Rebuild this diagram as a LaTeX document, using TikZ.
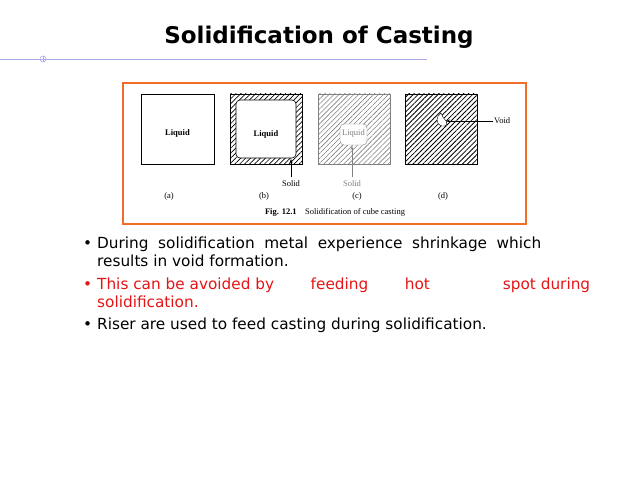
\documentclass[tikz,border=0pt]{standalone}
\usepackage{fontspec}
\setmainfont{Liberation Serif}
\newfontfamily\bodyf{DejaVu Sans}
\usetikzlibrary{patterns.meta,arrows.meta}
\definecolor{orng}{RGB}{240,110,40}
\definecolor{lav}{RGB}{170,170,230}
\definecolor{redt}{RGB}{230,20,20}
\begin{document}
\begin{tikzpicture}[x=1pt,y=-1pt,
  box/.style={draw,line width=0.9pt},
  lbl/.style={font=\fontsize{8.5}{10}\selectfont},
  blt/.style={anchor=base west,inner sep=0pt,font=\bodyf\fontsize{15.3}{18}\selectfont}]
\useasboundingbox (0,0) rectangle (638,478);
\node[font=\bodyf\bfseries\fontsize{23}{27}\selectfont] (title) at (319,37) {Solidification of Casting};
\draw[lav,line width=0.8pt] (0,59) -- (427,59);
\node[draw=lav,circle,inner sep=0pt,minimum size=6pt,line width=0.6pt] (ic) at (43,59) {};
\draw[lav,line width=0.5pt] (40,59)--(46,59) (43,56)--(43,62);
\draw[orng,line width=2.5pt] (123,83) rectangle (526,224);
% (a)
\draw[box] (141,94) rectangle (214,164);
\node[font=\bfseries\fontsize{8.5}{10}\selectfont] (la) at (177.5,133) {Liquid};
% (b)
\draw[box,pattern={Lines[angle=45,distance=3.5pt,line width=0.7pt]}] (230,94) rectangle (302,164);
\draw[box,fill=white,rounded corners=4pt,line width=0.6pt] (236,100) rectangle (296,158);
\node[font=\bfseries\fontsize{8.5}{10}\selectfont] (lb) at (266,134) {Liquid};
% (c)
\draw[box,draw=gray,pattern={Lines[angle=45,distance=3.5pt,line width=0.6pt]},pattern color=gray] (318,94) rectangle (390,164);
\draw[gray,fill=white,rounded corners=4pt] (340,124) rectangle (367,145);
\node[lbl,text=gray] (lc) at (353.5,133) {Liquid};
% (d)
\draw[box,pattern={Lines[angle=45,distance=3.5pt,line width=0.8pt]}] (405,94) rectangle (477,164);
\fill[white,draw=black,line width=0.4pt] (441,113) .. controls (436,116) and (435,124) .. (442,126) .. controls (446,127) and (448,124) .. (446,121) .. controls (443,119) and (443,116) .. (441,113);
\coordinate (vd) at (446,121);
\node[lbl,anchor=west,inner sep=1pt] (void) at (493,121) {Void};
\draw[-{Stealth[length=4pt]},line width=0.6pt] (void.west) -- (vd);
% solid labels
\node[lbl] (sb) at (291,184) {Solid};
\coordinate (sbp) at (291,159);
\draw[-{Stealth[length=4pt]},line width=0.6pt] (sb.north) -- (sbp);
\node[lbl,text=gray] (sc) at (352,184) {Solid};
\coordinate (scp) at (352,146);
\draw[gray,-{Stealth[length=4pt]},line width=0.6pt] (sc.north) -- (scp);
\node[lbl] (ca) at (169,196) {(a)};
\node[lbl] (cb) at (264,196) {(b)};
\node[lbl] (cc) at (357,196) {(c)};
\node[lbl] (cd) at (443,196) {(d)};
\node[lbl] (fig) at (335,212) {\textbf{Fig. 12.1}\quad Solidification of cube casting};
% bullets
\node[blt] (b1) at (83,249) {•};
\node[blt] (t1) at (97,249) {\makebox[444pt][s]{During solidification metal experience shrinkage which}};
\node[blt] (t2) at (97,267) {results in void formation.};
\node[blt,text=redt] (b2) at (83,290) {•};
\node[blt,text=redt] (t3) at (97,290) {\makebox[493pt]{This can be avoided by\hfill feeding\hfill hot\hfill\hfill spot during}};
\node[blt,text=redt] (t4) at (97,308) {solidification.};
\node[blt] (b3) at (83,330) {•};
\node[blt] (t5) at (97,330) {Riser are used to feed casting during solidification.};
\end{tikzpicture}
\end{document}
